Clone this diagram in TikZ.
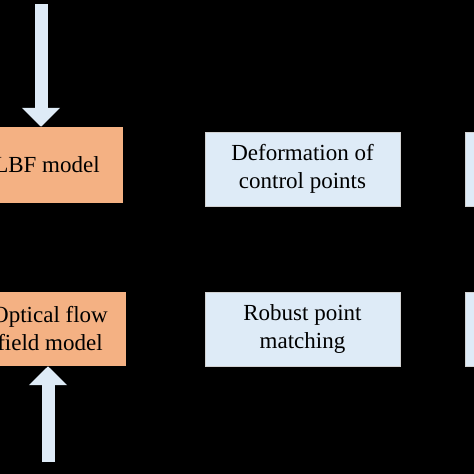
\documentclass[tikz,border=0pt]{standalone}
\usepackage{fontspec}
\setmainfont{Liberation Serif}
\usetikzlibrary{arrows.meta}
\definecolor{modelorange}{RGB}{244,177,131}
\definecolor{stageblue}{RGB}{222,235,247}

\begin{document}
\begin{tikzpicture}[x=1pt, y=-1pt,
        model/.style={rectangle, fill=modelorange, minimum width=152pt, minimum height=76pt,
            inner sep=0pt, align=center, font=\fontsize{23}{28}\selectfont},
        stagebox/.style={rectangle, fill=stageblue, draw=gray!35, minimum width=195pt, minimum height=74pt,
            inner sep=0pt, align=center, font=\fontsize{23}{28}\selectfont},
        inflow/.style={stageblue, line width=13pt, -{Triangle[width=37pt,length=19pt]}}]
        % background
        \fill[black] (0,0) rectangle (474,474);
        \useasboundingbox (0,0) rectangle (474,474);

        % top row
        \node[model] (lbf) at (47,165) {LBF model};
        \node[stagebox] (deform) at (302.5,169) {Deformation of\\control points};
        \node[stagebox] (topnext) at (562.5,169) {};

        % bottom row
        \node[model, minimum height=74pt] (optflow) at (50,329) {Optical flow\\field model};
        \node[stagebox] (rpm) at (302.5,329) {Robust point\\matching};
        \node[stagebox] (botnext) at (562.5,329) {};

        % inputs
        \coordinate (topin) at (41,4);
        \coordinate (botin) at (48,462);
        \draw[inflow] (topin) -- (topin |- lbf.north);
        \draw[inflow] (botin) -- (botin |- optflow.south);
    \end{tikzpicture}
\end{document}
